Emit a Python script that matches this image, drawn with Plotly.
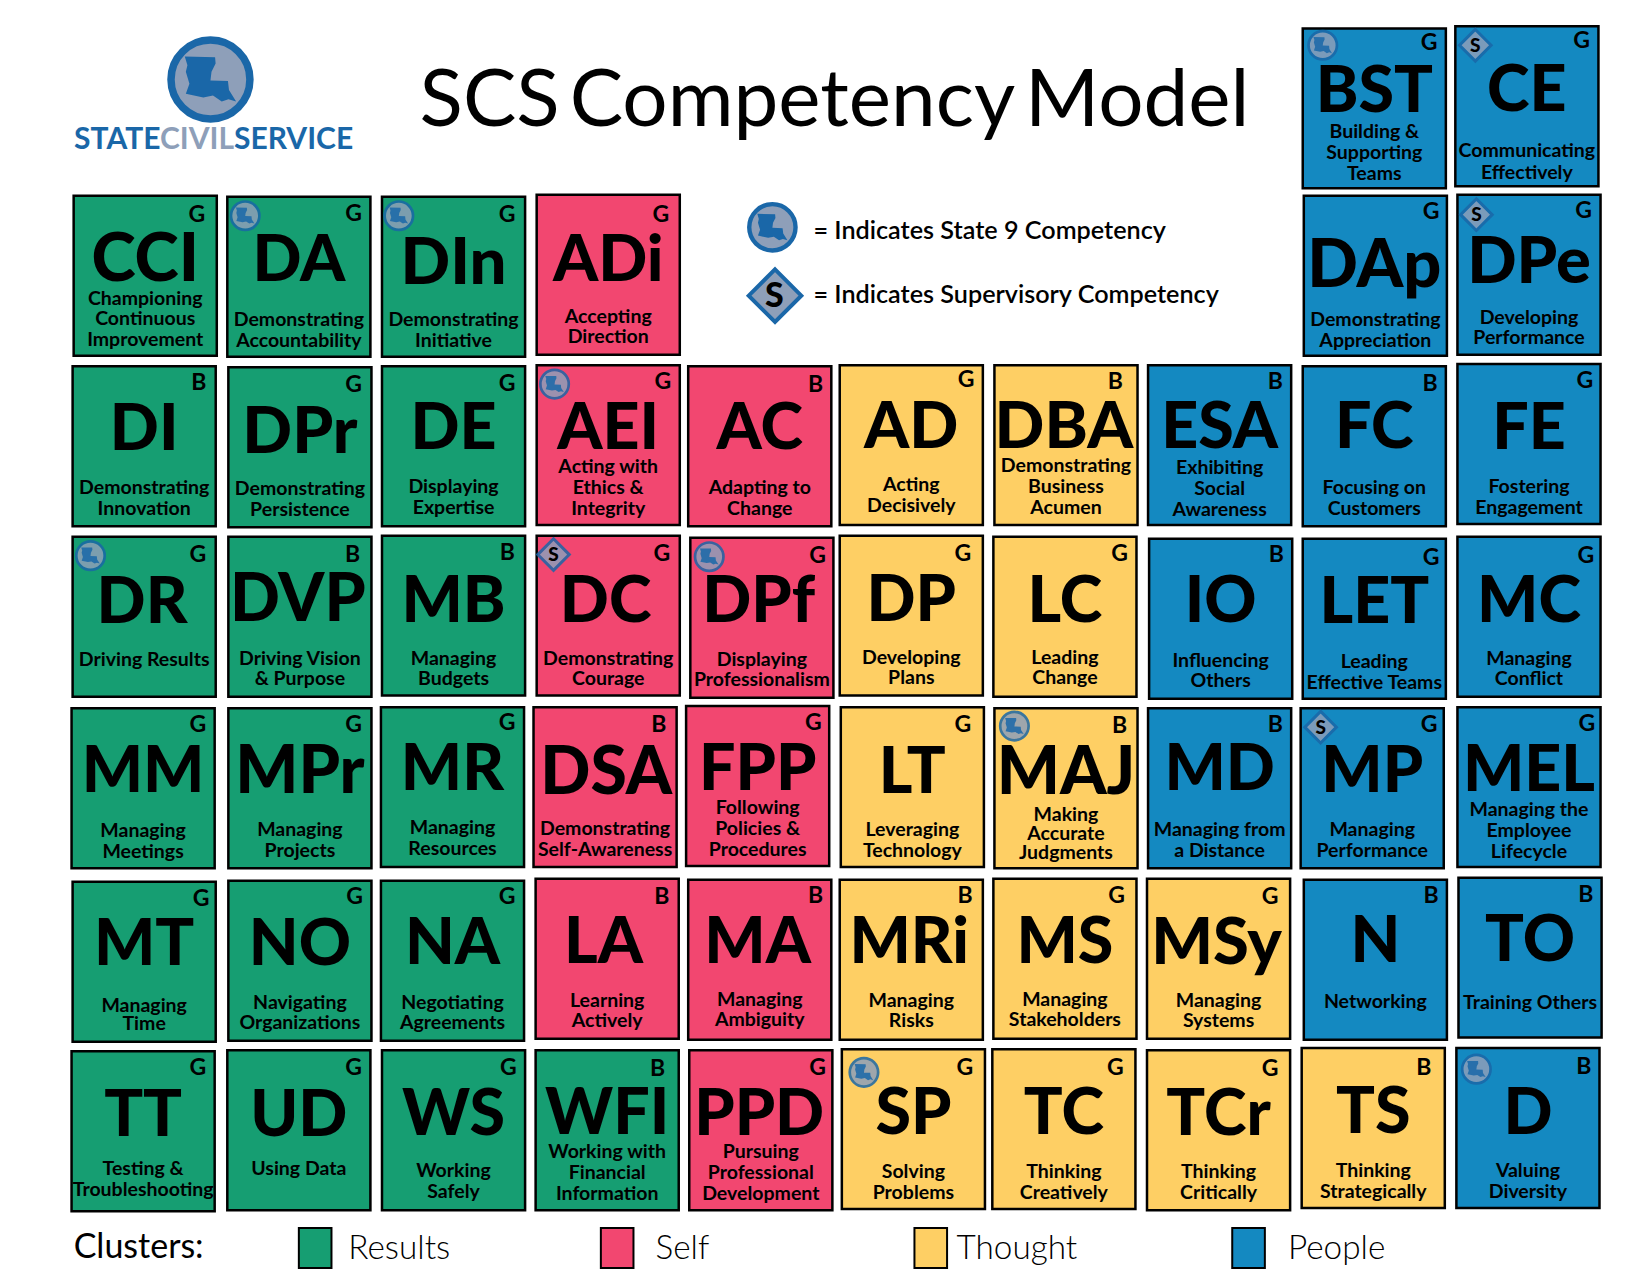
import plotly.graph_objects as go

# cell contents, read left to right, top to bottom
CODES = ['BST', 'CE',
         'CCI', 'DA', 'DIn', 'ADi', 'DAp', 'DPe',
         'DI', 'DPr', 'DE', 'AEI', 'AC', 'AD', 'DBA', 'ESA', 'FC', 'FE',
         'DR', 'DVP', 'MB', 'DC', 'DPf', 'DP', 'LC', 'IO', 'LET', 'MC',
         'MM', 'MPr', 'MR', 'DSA', 'FPP', 'LT', 'MAJ', 'MD', 'MP', 'MEL',
         'MT', 'NO', 'NA', 'LA', 'MA', 'MRi', 'MS', 'MSy', 'N', 'TO',
         'TT', 'UD', 'WS', 'WFI', 'PPD', 'SP', 'TC', 'TCr', 'TS', 'D']
NAMES = ['Building &|Supporting|Teams', 'Communicating|Effectively',
         'Championing|Continuous|Improvement', 'Demonstrating|Accountability', 'Demonstrating|Initiative',
         'Accepting|Direction', 'Demonstrating|Appreciation', 'Developing|Performance',
         'Demonstrating|Innovation', 'Demonstrating|Persistence', 'Displaying|Expertise',
         'Acting with|Ethics &|Integrity', 'Adapting to|Change', 'Acting|Decisively',
         'Demonstrating|Business|Acumen', 'Exhibiting|Social|Awareness', 'Focusing on|Customers',
         'Fostering|Engagement',
         'Driving Results', 'Driving Vision|& Purpose', 'Managing|Budgets', 'Demonstrating|Courage',
         'Displaying|Professionalism', 'Developing|Plans', 'Leading|Change', 'Influencing|Others',
         'Leading|Effective Teams', 'Managing|Conflict',
         'Managing|Meetings', 'Managing|Projects', 'Managing|Resources', 'Demonstrating|Self-Awareness',
         'Following|Policies &|Procedures', 'Leveraging|Technology', 'Making|Accurate|Judgments',
         'Managing from|a Distance', 'Managing|Performance', 'Managing the|Employee|Lifecycle',
         'Managing|Time', 'Navigating|Organizations', 'Negotiating|Agreements', 'Learning|Actively',
         'Managing|Ambiguity', 'Managing|Risks', 'Managing|Stakeholders', 'Managing|Systems',
         'Networking', 'Training Others',
         'Testing &|Troubleshooting', 'Using Data', 'Working|Safely', 'Working with|Financial|Information',
         'Pursuing|Professional|Development', 'Solving|Problems', 'Thinking|Creatively',
         'Thinking|Critically', 'Thinking|Strategically', 'Valuing|Diversity']
GRADES = list('GG' 'GGGGGG' 'BGGGBGBBBG' 'GBBGGGGBGG' 'GGGBGGBBGG' 'GGGBBBGGBB' 'GGGBGGGGBB')
CLUSTERS = list('PP' 'RRRSPP' 'RRRSSTTPPP' 'RRRSSTTPPP' 'RRRSSTTPPP' 'RRRSSTTTPP' 'RRRRSTTTTP')
STATE_NINE = {'BST': (1257, 43), 'DA': (233, 205), 'DIn': (379, 205), 'AEI': (527, 365), 'DR': (86, 528),
              'DPf': (674, 529), 'MAJ': (964, 690), 'SP': (821, 1019), 'D': (1403, 1016)}
SUPERVISORY = {'CE': (1402, 43), 'DPe': (1403, 204), 'DC': (526, 527), 'MP': (1255, 691)}

TITLE = 'SCS\u2009Competency\u2009Model'
LEGEND_KEYS = ['Indicates State 9 Competency', 'Indicates Supervisory Competency']
CLUSTER_NAMES = {'R': 'Results', 'S': 'Self', 'T': 'Thought', 'P': 'People'}
CLUSTER_COLORS = {'R': '#169E72', 'S': '#F24770', 'T': '#FECF64', 'P': '#1489C1'}
BLUE = '#1A67A8'
GREY = '#8E9FB9'

# page layout, in the 1568 wide coordinates of the picture
BOX_W, BOX_H = 136, 152
BOX_LEFT = [1238, 1383,
            70, 216, 363, 510, 1239, 1385,
            69, 217, 363, 510, 654, 798, 945, 1091, 1238, 1385,
            69, 217, 363, 510, 656, 798, 944, 1092, 1238, 1385,
            68, 217, 362, 507, 652, 799, 945, 1091, 1236, 1385,
            69, 217, 362, 509, 654, 798, 944, 1090, 1239, 1386,
            68, 216, 363, 509, 655, 800, 943, 1090, 1237, 1384]
BOX_TOP = [27, 25,
           186, 187, 187, 185, 186, 185,
           348, 349, 348, 347, 348, 347, 347, 347, 348, 346,
           510, 510, 509, 509, 511, 509, 510, 512, 512, 510,
           673, 673, 672, 672, 671, 672, 673, 673, 673, 672,
           838, 837, 837, 835, 836, 836, 835, 835, 836, 834,
           999, 998, 998, 998, 998, 997, 997, 998, 996, 996]
CODE_Y = [85, 84,
          244, 245, 248, 245, 250, 247,
          406, 408, 405, 405, 405, 404, 404, 404, 404, 405,
          570, 568, 569, 569, 569, 568, 569, 569, 570, 569,
          731, 731, 729, 732, 729, 732, 732, 729, 731, 730,
          895, 895, 894, 893, 893, 893, 893, 894, 892, 891,
          1058, 1058, 1057, 1056, 1057, 1056, 1056, 1057, 1055, 1056]
NAME_Y = [125, 143,
          283, 303, 303, 300, 303, 301,
          463, 464, 462, 443, 463, 460, 442, 444, 463, 462,
          626, 625, 625, 625, 626, 624, 624, 627, 628, 625,
          789, 788, 786, 787, 767, 788, 774, 788, 788, 769,
          955, 952, 952, 950, 949, 950, 949, 950, 951, 952,
          1110, 1110, 1112, 1094, 1094, 1113, 1113, 1113, 1112, 1112]
GRADE_X = [1358, 1503,
           187, 336, 482, 628, 1360, 1505,
           189, 336, 482, 630, 775, 918, 1060, 1212, 1359, 1506,
           188, 335, 482, 629, 777, 915, 1064, 1213, 1360, 1507,
           188, 336, 482, 626, 773, 915, 1064, 1212, 1358, 1508,
           191, 337, 482, 629, 775, 917, 1061, 1207, 1360, 1507,
           188, 336, 483, 625, 777, 917, 1060, 1207, 1353, 1505]
GRADE_Y = [40, 38,
           203, 202, 203, 203, 200, 199,
           363, 365, 364, 362, 365, 360, 362, 362, 364, 361,
           526, 526, 524, 525, 527, 525, 525, 526, 529, 527,
           688, 688, 686, 688, 686, 688, 689, 688, 688, 687,
           853, 851, 851, 851, 850, 850, 850, 851, 850, 849,
           1014, 1014, 1014, 1015, 1014, 1014, 1014, 1015, 1014, 1013]
LINE_GAP = 19.7
LINE_GAP_OF = {'MAJ': 18, 'MT': 17.5, 'CE': 20.5}
CODE_FONT = 64.5
NAME_FONT = 19.5
GRADE_FONT = 23
# some codes were set wider than the rest in the picture, or sit off centre
CODE_SIZE = {'CCI': 67, 'DBA': 65.5, 'DVP': 65.7, 'MAJ': 66.5, 'DSA': 66, 'DAp': 66.7, 'DPe': 65,
             'MPr': 66.4, 'DIn': 65.3, 'DPr': 65.5, 'MSy': 65}
CODE_SHIFT = {'DPf': -3, 'DC': -2.5, 'DR': -2, 'LA': -3.5, 'DBA': -2, 'MA': -2, 'DVP': -2, 'DAp': -1,
              'DSA': 1, 'MRi': -2, 'MSy': -2, 'PPD': -1.5}
LEGEND_X = {'R': 284, 'S': 571, 'T': 869, 'P': 1171}
LEGEND_LABEL_X = [331, 623, 909, 1224]

# rough outline of the state, on a unit square
STATE = [(0.0, 0.0), (0.59, 0.01), (0.6, 0.15), (0.52, 0.33), (0.5, 0.52), (0.84, 0.53), (0.86, 0.73),
         (1.0, 0.98), (0.85, 0.93), (0.72, 0.98), (0.55, 0.85), (0.36, 0.89), (0.02, 0.81), (0.09, 0.59),
         (0.02, 0.33), (0.05, 0.19)]


def text_y(y, size):
    # plotly sets 'middle' text about a tenth of the font size too high
    return y + 0.1 * size


def state_path(cx, cy, r):
    w, h = r * 1.3, r * 1.16
    pts = [(cx - w / 2 + px * w, cy - h / 2 + py * h) for px, py in STATE]
    return 'M ' + ' L '.join(f'{px:.1f},{py:.1f}' for px, py in pts) + ' Z'


def add_state_badge(fig, cx, cy, r, opacity=1.0):
    fig.add_shape(type='circle', x0=cx - r, x1=cx + r, y0=cy - r, y1=cy + r, opacity=opacity, layer='below',
                  fillcolor=GREY, line=dict(color=BLUE, width=max(2, r * 0.2)))
    fig.add_shape(type='path', path=state_path(cx, cy, r), fillcolor=BLUE, opacity=opacity, line_width=0,
                  layer='below')


def add_sup_badge(fig, cx, cy, r, opacity=1.0):
    path = f'M {cx},{cy - r} L {cx + r},{cy} L {cx},{cy + r} L {cx - r},{cy} Z'
    fig.add_shape(type='path', path=path, fillcolor=GREY, opacity=opacity, layer='below',
                  line=dict(color=BLUE, width=max(3, r * 0.16)))


fig = go.Figure()

code_x, code_y, code_size = [], [], []
line_x, line_y, line_text = [], [], []
s_x, s_y = [], []

for i, code in enumerate(CODES):
    left, top = BOX_LEFT[i], BOX_TOP[i]
    fig.add_shape(type='rect', x0=left, x1=left + BOX_W, y0=top, y1=top + BOX_H, layer='below',
                  fillcolor=CLUSTER_COLORS[CLUSTERS[i]], line=dict(color='black', width=2.5))
    mid = left + BOX_W / 2
    size = CODE_SIZE.get(code, CODE_FONT)
    code_x.append(mid + CODE_SHIFT.get(code, 0))
    code_y.append(text_y(CODE_Y[i], size))
    code_size.append(size)
    gap = LINE_GAP_OF.get(code, LINE_GAP)
    for n, part in enumerate(NAMES[i].split('|')):
        line_x.append(mid)
        line_y.append(text_y(NAME_Y[i] + n * gap, NAME_FONT))
        line_text.append(part)
    if code in STATE_NINE:
        add_state_badge(fig, *STATE_NINE[code], 13.5, opacity=0.85)
    elif code in SUPERVISORY:
        bx, by = SUPERVISORY[code]
        add_sup_badge(fig, bx, by, 15, opacity=0.85)
        s_x.append(bx)
        s_y.append(text_y(by, 19))

fig.add_trace(go.Scatter(x=code_x, y=code_y, text=CODES, mode='text', hoverinfo='skip',
                         textfont=dict(family='Lato', size=code_size, color='black', weight=900)))
fig.add_trace(go.Scatter(x=line_x, y=line_y, text=line_text, mode='text', hoverinfo='skip',
                         textfont=dict(family='Lato', size=NAME_FONT, color='black', weight=700)))
fig.add_trace(go.Scatter(x=GRADE_X, y=[text_y(g, GRADE_FONT) for g in GRADE_Y], text=GRADES, mode='text',
                         hoverinfo='skip',
                         textfont=dict(family='Lato', size=GRADE_FONT, color='black', weight=700)))
fig.add_trace(go.Scatter(x=s_x, y=s_y, text=['S'] * len(s_x), mode='text', hoverinfo='skip',
                         textfont=dict(family='Lato', size=19, color='black', weight=900)))

# header: logo, title, marker key
add_state_badge(fig, 200, 75.6, 37.5)
fig.add_trace(go.Scatter(x=[203], y=[text_y(131, 30)], text=['STATE<span style="color:#8E9FB9">CIVIL</span>SERVICE'],
                         mode='text', hoverinfo='skip',
                         textfont=dict(family='Lato', size=30, color=BLUE, weight=700)))
fig.add_trace(go.Scatter(x=[793], y=[text_y(93, 80)], text=[TITLE], mode='text', hoverinfo='skip',
                         textfont=dict(family='Lato', size=80, color='black', weight=400)))
add_state_badge(fig, 734, 216, 22)
add_sup_badge(fig, 736.5, 281, 25)
fig.add_trace(go.Scatter(x=[736], y=[text_y(280, 34)], text=['S'], mode='text', hoverinfo='skip',
                         textfont=dict(family='Lato', size=34, color='black', weight=900)))
fig.add_trace(go.Scatter(x=[773, 773], y=[text_y(219, 25), text_y(279, 25)], text=['= ' + t for t in LEGEND_KEYS],
                         mode='text', textposition='middle right', hoverinfo='skip',
                         textfont=dict(family='Lato', size=25.2, color='black', weight=600)))

# cluster legend along the bottom
for key in CLUSTER_NAMES:
    fig.add_shape(type='rect', x0=LEGEND_X[key], x1=LEGEND_X[key] + 31, y0=1167, y1=1205, layer='below',
                  fillcolor=CLUSTER_COLORS[key], line=dict(color='black', width=2))
fig.add_trace(go.Scatter(x=LEGEND_LABEL_X, y=[text_y(1185, 33)] * 4,
                         text=list(CLUSTER_NAMES.values()), mode='text', textposition='middle right',
                         hoverinfo='skip',
                         textfont=dict(family='Lato', size=33.3, color='black', weight=300)))
fig.add_trace(go.Scatter(x=[70], y=[text_y(1184, 34)], text=['Clusters:'], mode='text', textposition='middle right',
                         hoverinfo='skip', textfont=dict(family='Lato', size=34, color='black', weight=400)))

fig.update_layout(width=1642, height=1267, margin=dict(l=0, r=0, t=0, b=0), showlegend=False,
                  paper_bgcolor='white', plot_bgcolor='white',
                  xaxis=dict(range=[7.6, 1568], visible=False),
                  yaxis=dict(range=[1211.6, 7.6], visible=False))
fig.write_html("out.html")
